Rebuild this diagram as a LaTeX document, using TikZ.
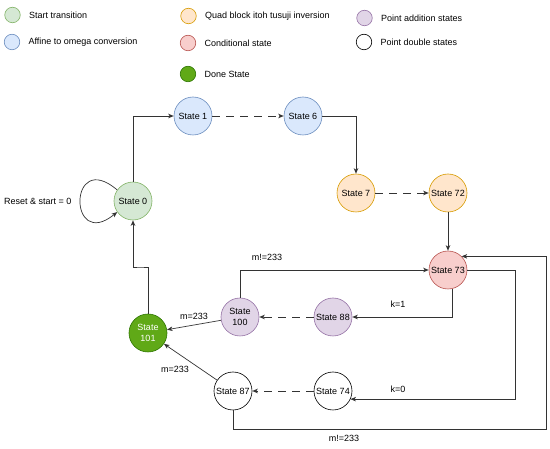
\documentclass[tikz,border=0pt]{standalone}
\usepackage{fontspec}
\setmainfont{Liberation Sans}
\usetikzlibrary{arrows.meta,positioning}
\definecolor{grfill}{HTML}{D5E8D4}\definecolor{grline}{HTML}{82B366}
\definecolor{blfill}{HTML}{DAE8FC}\definecolor{blline}{HTML}{6C8EBF}
\definecolor{orfill}{HTML}{FFE6CC}\definecolor{orline}{HTML}{D79B00}
\definecolor{rdfill}{HTML}{F8CECC}\definecolor{rdline}{HTML}{B85450}
\definecolor{pufill}{HTML}{E1D5E7}\definecolor{puline}{HTML}{9673A6}
\definecolor{dnfill}{HTML}{60A917}\definecolor{dnline}{HTML}{2D7600}
\definecolor{edgecol}{HTML}{333333}
\tikzset{
  state/.style={circle,draw,minimum size=38pt,inner sep=0pt,align=center,line width=0.6pt},
  key/.style={circle,draw,minimum size=15.5pt,inner sep=0pt,line width=0.6pt},
  keytext/.style={anchor=west,right=5pt of #1},
  start/.style={fill=grfill,draw=grline},
  affine/.style={fill=blfill,draw=blline},
  quad/.style={fill=orfill,draw=orline},
  cond/.style={fill=rdfill,draw=rdline},
  padd/.style={fill=pufill,draw=puline},
  pdbl/.style={fill=white,draw=black},
  done/.style={fill=dnfill,draw=dnline,text=white},
  link/.style={draw=edgecol,line width=0.7pt,-{Stealth[length=5.5pt,width=4.5pt,inset=1.5pt]}},
  dlink/.style={link,dash pattern=on 8pt off 6pt}
}
\begin{document}
\begin{tikzpicture}[x=1pt,y=-1pt,font=\fontsize{9}{10.5}\selectfont]
\useasboundingbox (0,0) rectangle (550,449);
% legend
\node[key,start] (k1) at (12.5,15) {};
\node[keytext=k1] {Start transition};
\node[key,affine] (k2) at (12,42) {};
\node[keytext=k2] {Affine to omega conversion};
\node[key,quad] (k3) at (188.5,16) {};
\node[keytext=k3] {Quad block itoh tusuji inversion};
\node[key,cond] (k4) at (188,43) {};
\node[keytext=k4] {Conditional state};
\node[key,done] (k5) at (188,74) {};
\node[keytext=k5] {Done State};
\node[key,padd] (k6) at (364.5,18) {};
\node[keytext=k6] {Point addition states};
\node[key,pdbl] (k7) at (364,42) {};
\node[keytext=k7] {Point double states};
% states
\node[state,start] (s0) at (133,201) {State 0};
\node[state,affine] (s1) at (193,116) {State 1};
\node[state,affine] (s6) at (303,116) {State 6};
\node[state,quad] (s7) at (356,193) {State 7};
\node[state,quad] (s72) at (448,193) {State 72};
\node[state,cond] (s73) at (448,270) {State 73};
\node[state,padd] (s88) at (333,317) {State 88};
\node[state,padd] (s100) at (240,317) {State\\100};
\node[state,done] (s101) at (148,333) {State\\101};
\node[state,pdbl] (s87) at (233,391) {State 87};
\node[state,pdbl] (s74) at (333,391) {State 74};
% bends
\coordinate (j1) at (140,267);
\coordinate (r1) at (515,0);
\coordinate (c1) at (546,429);
% transitions
\draw[link] (s0.north) |- (s1.west);
\draw[dlink] (s1) -- (s6);
\draw[link] (s6.east) -| (s7.north);
\draw[dlink] (s7) -- (s72);
\draw[link] (s72) -- (s73);
\draw[link] ([xshift=4pt]s73.south) |- (s88.east);
\draw[link] (s73.east) -| (r1 |- s74.-25) -- (s74.-25);
\draw[dlink] (s88) -- (s100);
\draw[dlink] (s74) -- (s87);
\draw[link] (s100.north) |- (s73.west);
\draw[link] (s87.south) |- (c1) |- (s73.45);
\draw[link] (s100) -- (s101);
\draw[link] (s87) -- (s101);
\draw[link] (s101.north) |- (j1) -| (s0.south);
\draw[link] (s0.145) .. controls (68,148) and (68,252) .. (s0.215);
% labels
\node[anchor=east] (lreset) at (75,201) {Reset \& start = 0};
\node (lm1) at (267,257) {m!=233};
\node (lk1) at (398,304) {k=1};
\node (lk0) at (398,389) {k=0};
\node (lm2) at (344,438) {m!=233};
\node (lm3) at (194,316) {m=233};
\node (lm4) at (175,369) {m=233};
\end{tikzpicture}
\end{document}
